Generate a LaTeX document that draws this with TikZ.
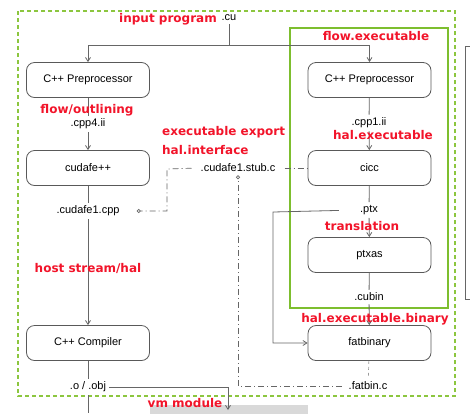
\documentclass[tikz,border=0pt]{standalone}
\usepackage{fontspec}
\newfontfamily\labelfont{Liberation Sans}
\newfontfamily\notefont{DejaVu Sans}
\usetikzlibrary{
  arrows.meta,   % 箭头样式
  positioning    % 节点相对定位
}
\definecolor{limegreen}{HTML}{8CC63F}
\definecolor{framegreen}{HTML}{7DBE2E}
\definecolor{notered}{HTML}{F2142A}
\tikzset{
  tool/.style={
    draw=black!65,
    line width=0.8pt,
    rounded corners=8pt,
    minimum width=123pt,
    minimum height=35pt,
    font=\labelfont\fontsize{11}{13}\selectfont
  },
  file/.style={
    inner sep=3pt,
    font=\labelfont\fontsize{11}{13}\selectfont
  },
  conn/.style={
    draw=black!60,
    line width=0.8pt
  },
  flow arrow/.style={
    conn,
    -{Straight Barb[length=4pt,width=5pt]}
  },
  link/.style={
    draw=black!60,
    line width=0.7pt,
    dash pattern=on 6pt off 3pt on 1pt off 3pt,
    -{Circle[open,length=4pt]}
  },
  note/.style={
    text=notered,
    inner sep=0pt,
    font=\notefont\bfseries\fontsize{12}{14}\selectfont
  }
}

\begin{document}
\begin{tikzpicture}[x=1pt, y=-1pt]
  \useasboundingbox (0,0) rectangle (470,413);

  % 1. 外框与内框
  \draw[limegreen, line width=1.3pt, dash pattern=on 4pt off 3pt] (18,11) rectangle (455,396);
  \draw[framegreen, line width=1.4pt] (290,28) rectangle (448,308);
  \draw[black!60, line width=0.8pt] (465,46) rectangle (480,299);
  \fill[black!15] (150,405) rectangle (308,420);

  % 2. 工具节点
  \node[tool] (prepL) at (88,80)    {C++ Preprocessor};
  \node[tool] (prepR) at (369.5,80) {C++ Preprocessor};
  \node[tool] (cudafe) at (88,168)  {cudafe++};
  \node[tool] (cicc) at (369.5,168) {cicc};
  \node[tool] (ptxas) at (369.5,255) {ptxas};
  \node[tool] (ccomp) at (88,343)   {C++ Compiler};
  \node[tool] (fatbin) at (369.5,343) {fatbinary};

  % 3. 文件节点
  \node[file] (cu) at (229,18)        {.cu};
  \node[file] (cpp4) at (88,124)      {.cpp4.ii};
  \node[file] (cpp1) at (369,123)     {.cpp1.ii};
  \node[file] (cudafecpp) at (88,211) {.cudafe1.cpp};
  \node[file] (stub) at (238,168)     {.cudafe1.stub.c};
  \node[file] (ptx) at (369,210)      {.ptx};
  \node[file] (cubin) at (369,297)    {.cubin};
  \node[file] (obj) at (88,387)       {.o / .obj};
  \node[file] (fatbinc) at (368,386)  {.fatbin.c};

  % 4. 辅助坐标
  \coordinate (split) at (229,45);
  \coordinate (ptxbend) at (273,212);
  \coordinate (stubbend) at (167,169);
  \coordinate (objout) at (88,413);
  \coordinate (vmin) at (228,410);

  % 5. 主流程连线
  \draw[conn] (cu) -- (split);
  \draw[flow arrow] (split) -| (prepL);
  \draw[flow arrow] (split) -| (prepR);
  \draw[conn] (prepL) -- (cpp4);
  \draw[flow arrow] (cpp4) -- (cudafe);
  \draw[conn] (cudafe) -- (cudafecpp);
  \draw[flow arrow] (cudafecpp) -- (ccomp);
  \draw[conn] (ccomp) -- (obj);
  \draw[conn] (obj) -- (objout);
  \draw[flow arrow] (obj.east) -| (vmin);
  \draw[conn] (prepR) -- (cpp1);
  \draw[flow arrow] (cpp1) -- (cicc);
  \draw[conn] (cicc) -- (ptx);
  \draw[flow arrow] (ptx) -- (ptxas);
  \draw[conn] (ptxas) -- (cubin);
  \draw[flow arrow] (cubin) -- (fatbin);
  \draw[flow arrow, shorten <=18pt] (ptx.west) -- (ptxbend) |- (fatbin.west);
  \draw[black!40, line width=0.7pt, dashed] (fatbin) -- (fatbinc);

  % 6. 点划线连线
  \draw[link, shorten <=4pt] (fatbinc.west) -| (stub.south);
  \draw[link, shorten <=6pt, shorten >=14pt] (stub.west) -- (stubbend) |- (cudafecpp.east);
  \draw[link, -, shorten <=6pt] (stub.east) -- (cicc.west);

  % 7. 红色标注
  \node[note] (nInput) at (168,19)   {input program};
  \node[note] (nFlowExe) at (376,36) {flow.executable};
  \node[note] (nOutline) at (87,110) {flow/outlining};
  \node[note, anchor=west] (nExport) at (162,132) {executable export};
  \node[note, anchor=west] (nIface) at (162,150)  {hal.interface};
  \node[note] (nHalExe) at (383,135) {hal.executable};
  \node[note] (nTrans) at (362,226)  {translation};
  \node[note] (nHost) at (88,268)    {host stream/hal};
  \node[note] (nBinary) at (375,319) {hal.executable.binary};
  \node[note] (nVm) at (185,403)     {vm module};
\end{tikzpicture}
\end{document}
